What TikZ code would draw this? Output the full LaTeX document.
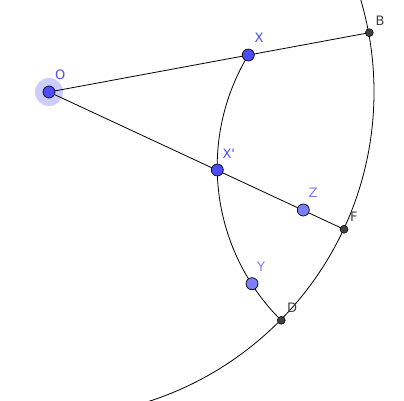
\documentclass[tikz,border=0pt]{standalone}
\usepackage{fontspec}
\setmainfont{DejaVu Sans}

\definecolor{freept}{RGB}{77,77,255}
\definecolor{pathpt}{RGB}{125,125,255}
\definecolor{deppt}{RGB}{64,64,64}
\definecolor{halo}{RGB}{204,204,255}

\tikzset{
  freedot/.style={circle, draw=black, fill=freept, line width=0.7pt, minimum size=12pt, inner sep=0pt},
  pathdot/.style={circle, draw=black, fill=pathpt, line width=0.7pt, minimum size=12pt, inner sep=0pt},
  depdot/.style={circle, draw=black, fill=deppt, line width=0.5pt, minimum size=8pt, inner sep=0pt},
  ptlabel/.style={anchor=base west, inner sep=0pt, font=\fontsize{13}{15}\selectfont},
  curve/.style={black, line width=0.8pt}
}

\begin{document}
\begin{tikzpicture}[x=1pt, y=-1pt]

  \useasboundingbox (0,0) rectangle (404,401);
  \clip (0,0) rectangle (404,401);

  % Points of the construction
  \coordinate (O) at (49,92);
  \coordinate (X) at (248.3,55);
  \coordinate (B) at (369.3,32.7);
  \coordinate (X') at (217.3,170);
  \coordinate (Z) at (303.3,210);
  \coordinate (F) at (344,229.3);
  \coordinate (Y) at (252,283.7);
  \coordinate (D) at (281.3,320.3);

  % Highlight of O
  \fill[halo] (O) circle[radius=14];

  % Rays from O
  \draw[curve] (O) -- (B);
  \draw[curve] (O) -- (F);

  % Big circle around O
  \draw[curve] (O) circle[radius=325];

  % Arc through X, X', Y
  \draw[curve] (X) arc[start angle=211.1, end angle=134.8, radius=216.4];

  % Dots
  \node[freedot] (dO) at (O) {};
  \node[freedot] (dX) at (X) {};
  \node[freedot] (dX') at (X') {};
  \node[pathdot] (dZ) at (Z) {};
  \node[pathdot] (dY) at (Y) {};
  \node[depdot] (dB) at (B) {};
  \node[depdot] (dF) at (F) {};
  \node[depdot] (dD) at (D) {};

  % Labels
  \node[ptlabel, text=freept] (lO) at ([shift={(6,-12)}]O) {O};
  \node[ptlabel, text=freept] (lX) at ([shift={(6,-12)}]X) {X};
  \node[ptlabel, text=freept] (lX') at ([shift={(5,-12)}]X') {X\textquotesingle};
  \node[ptlabel, text=pathpt] (lZ) at ([shift={(5,-12.5)}]Z) {Z};
  \node[ptlabel, text=pathpt] (lY) at ([shift={(5,-12)}]Y) {Y};
  \node[ptlabel, text=deppt] (lB) at ([shift={(6,-7.5)}]B) {B};
  \node[ptlabel, text=deppt] (lF) at ([shift={(6,-7.5)}]F) {F};
  \node[ptlabel, text=deppt] (lD) at ([shift={(5.5,-7.5)}]D) {D};

\end{tikzpicture}
\end{document}
